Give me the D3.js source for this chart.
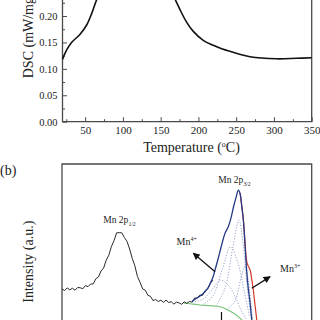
<!DOCTYPE html>
<html><head><meta charset="utf-8">
<script src="https://cdn.jsdelivr.net/npm/d3@7"></script>
<style>
html,body{margin:0;padding:0;background:#fff;}
svg{display:block;font-family:"Liberation Serif","Times New Roman",serif;}
</style></head><body>
<svg id="c" width="320" height="320"></svg>
<script>
// ---------- Panel (a): DSC ----------
const dscTemp = [20, 22, 25.5, 32, 43, 52, 58.7, 65, 75, 90, 110, 130, 150, 162, 169, 175.6, 184.5, 193.2, 206.4, 224.2, 237.4, 268.3, 303.6, 330, 350];
const dscVal  = [0.118, 0.125, 0.136, 0.150, 0.165, 0.183, 0.205, 0.230, 0.262, 0.288, 0.302, 0.300, 0.280, 0.252, 0.232, 0.212, 0.188, 0.171, 0.154, 0.142, 0.135, 0.123, 0.119, 0.120, 0.121];
const dscXTicks = [50, 100, 150, 200, 250, 300, 350];
const dscXMinor = [25, 75, 125, 175, 225, 275, 325];
const dscYTicks = [0, 0.05, 0.10, 0.15, 0.20];
const dscYMinor = [0.025, 0.075, 0.125, 0.175, 0.225];

// ---------- Panel (b): XPS Mn 2p ----------
const rawE = [660.00,659.75,659.50,659.25,659.00,658.75,658.50,658.25,658.00,657.75,657.50,657.25,657.00,656.75,656.50,656.25,656.00,655.75,655.50,655.25,655.00,654.75,654.50,654.25,654.00,653.75,653.50,653.25,653.00,652.75,652.50,652.25,652.00,651.75,651.50,651.25,651.00,650.75,650.50,650.25,650.00,649.75,649.50,649.25,649.00,648.75,648.50,648.25,648.00,647.75,647.50,647.25,647.00,646.75,646.50,646.25,646.00,645.75,645.50];
const rawI = [29.0,28.1,29.6,28.5,29.4,28.3,29.8,29.7,29.1,30.9,30.3,31.8,31.9,34.8,35.8,39.2,40.9,45.4,48.2,53.1,56.5,60.9,61.0,60.9,58.2,56.0,51.7,46.4,42.2,36.1,32.8,29.1,28.3,25.4,24.8,22.4,23.0,21.9,22.6,21.4,22.7,21.3,21.8,20.4,21.5,21.1,20.3,21.7,20.8,21.9,21.5,23.8,23.8,25.5,25.3,28.0,29.0,32.1,34.0];
const envE = [647.5,647.0,646.5,646.0,645.75,645.5,645.29,645.0,644.7,644.33,644.0,643.75,643.5,643.25,643.05,642.9,642.72,642.57,642.4,642.24,642.1,641.92,641.76,641.6];
const envI = [22.0,24.0,26.0,29.3,32.2,35.5,39.8,46.0,53.0,60.6,64.6,69.5,76.0,81.5,85.2,83.5,76.0,68.2,53.0,38.5,29.5,21.0,11.4,2.0];
const redE = [642.88,642.72,642.57,642.4,642.3,642.2,642.05,641.92,641.75,641.61,641.45,641.28,641.1];
const redI = [83.5,76.0,68.5,55.0,47.0,43.5,41.5,39.8,34.0,28.4,20.0,11.4,1.0];
const bgE = [648.3,647.7,646.73,645.8,644.81,644.2,643.53,642.72,641.92,641.7];
const bgI = [21.0,20.6,19.9,19.5,18.9,17.5,15.3,11.4,3.0,0.0];
const compA = [[645.2,19],[644.3,30],[643.6,52],[643.0,68],[642.6,55],[642.2,30],[641.8,12]];
const compB = [[646.5,20],[645.5,25],[644.6,40],[643.8,53],[643.1,44],[642.5,28],[642.0,14]];
const compC = [[647.5,21.5],[646.5,23],[645.5,29],[644.8,34],[644.0,31],[643.3,24],[642.8,17],[642.3,12]];
const compD = [[644.2,17],[643.4,22],[642.8,35],[642.4,42],[642.1,34],[641.8,18],[641.6,8]];
const arrows = [
  {from:[645.29,38.8], to:[647.38,49.3]},
  {from:[641.76,29.4], to:[640.0,36.0]}
];
const stubLine = [[644.67,15.9],[644.67,8.0]];

const svg = d3.select("#c");
const font = '"Liberation Serif","Times New Roman",serif';
const axisCol = "#4a4a4a";

// ===== Panel (a) =====
const xA = d3.scaleLinear().domain([20, 350]).range([62.5, 311.7]);
const yA = d3.scaleLinear().domain([0, 0.25]).range([121.7, -10.4]);

const gA = svg.append("g");
gA.append("path").attr("d", `M${xA(20)},${yA(0.25)}V${yA(0)}H${xA(350)}V${yA(0.25)}Z`)
  .attr("fill","none").attr("stroke",axisCol).attr("stroke-width",1.3);

function styleAxis(g){ g.select(".domain").remove(); g.selectAll("line").attr("stroke",axisCol).attr("stroke-width",1); }

gA.append("g").attr("transform",`translate(0,${yA(0)})`)
  .call(d3.axisBottom(xA).tickValues(dscXTicks).tickSize(-4.5).tickFormat("")).call(styleAxis);
gA.append("g").attr("transform",`translate(0,${yA(0)})`)
  .call(d3.axisBottom(xA).tickValues(dscXMinor).tickSize(-2.5).tickFormat("")).call(styleAxis);
gA.append("g").attr("transform",`translate(0,${yA(0)})`)
  .call(d3.axisBottom(xA).tickValues(dscXTicks).tickSize(0).tickPadding(4.5).tickFormat(d3.format("d")))
  .call(g=>{g.select(".domain").remove(); g.selectAll("text").attr("font-family",font).attr("font-size",11).attr("fill","#222");});

gA.append("g").attr("transform",`translate(${xA(20)},0)`)
  .call(d3.axisLeft(yA).tickValues(dscYTicks).tickSize(-4.5).tickFormat("")).call(styleAxis);
gA.append("g").attr("transform",`translate(${xA(20)},0)`)
  .call(d3.axisLeft(yA).tickValues(dscYMinor).tickSize(-2.5).tickFormat("")).call(styleAxis);
gA.append("g").attr("transform",`translate(${xA(20)},0)`)
  .call(d3.axisLeft(yA).tickValues(dscYTicks).tickSize(0).tickPadding(5).tickFormat(d3.format(".2f")))
  .call(g=>{g.select(".domain").remove(); g.selectAll("text").attr("font-family",font).attr("font-size",10.5).attr("fill","#222");});

const dscData = dscTemp.map((t,i)=>[t, dscVal[i]]);
gA.append("path").datum(dscData)
  .attr("d", d3.line().x(d=>xA(d[0])).y(d=>yA(d[1])).curve(d3.curveCatmullRom.alpha(0.5)))
  .attr("fill","none").attr("stroke","#111").attr("stroke-width",1.6);

const xt = gA.append("text").attr("x",191.5).attr("y",151.5).attr("text-anchor","middle")
  .attr("font-family",font).attr("font-size",14).attr("fill","#222");
xt.append("tspan").text("Temperature (");
xt.append("tspan").attr("font-size",8).attr("dy",-5).text("o");
xt.append("tspan").attr("dy",5).text("C)");

svg.append("text").attr("transform","translate(32.5,35.3) rotate(-90)").attr("text-anchor","middle")
  .attr("font-family",font).attr("font-size",14).attr("fill","#222").text("DSC (mW/mg)");

// ===== Panel (b) =====
const xB = d3.scaleLinear().domain([660, 636]).range([62, 311.7]);
const yB = d3.scaleLinear().domain([0, 100]).range([340, 164]);
const gB = svg.append("g");
gB.append("path").attr("d", `M${xB(660)},${yB(-8)}V${yB(100)}H${xB(636)}V${yB(-8)}`)
  .attr("fill","none").attr("stroke",axisCol).attr("stroke-width",1.3);

const lineB = d3.line().x(d=>xB(d[0])).y(d=>yB(d[1]));
const smoothB = d3.line().x(d=>xB(d[0])).y(d=>yB(d[1])).curve(d3.curveCatmullRom.alpha(0.5));

[compA, compB, compC, compD].forEach(c=>{
  gB.append("path").datum(c).attr("d", smoothB).attr("fill","none")
    .attr("stroke","#8d9bc4").attr("stroke-width",0.9).attr("stroke-dasharray","1.2,1.6");
});
gB.append("path").datum(bgE.map((e,i)=>[e,bgI[i]])).attr("d", smoothB)
  .attr("fill","none").attr("stroke","#7cc47a").attr("stroke-width",1.2);
gB.append("path").datum(redE.map((e,i)=>[e,redI[i]])).attr("d", smoothB)
  .attr("fill","none").attr("stroke","#d43a2c").attr("stroke-width",1.2);
gB.append("path").datum(rawE.map((e,i)=>[e,rawI[i]])).attr("d", lineB)
  .attr("fill","none").attr("stroke","#2a2a2a").attr("stroke-width",1);
gB.append("path").datum(envE.map((e,i)=>[e,envI[i]])).attr("d", smoothB)
  .attr("fill","none").attr("stroke","#263a86").attr("stroke-width",1.3);

const defs = svg.append("defs");
defs.append("marker").attr("id","ah").attr("viewBox","0 0 10 10").attr("refX",9).attr("refY",5)
  .attr("markerWidth",8).attr("markerHeight",7).attr("markerUnits","userSpaceOnUse").attr("orient","auto")
  .append("path").attr("d","M0,0L10,5L0,10Z").attr("fill","#111");
arrows.forEach(a=>{
  gB.append("line").attr("x1",xB(a.from[0])).attr("y1",yB(a.from[1]))
    .attr("x2",xB(a.to[0])).attr("y2",yB(a.to[1]))
    .attr("stroke","#111").attr("stroke-width",1.3).attr("marker-end","url(#ah)");
});
gB.append("path").datum(stubLine).attr("d", lineB).attr("stroke","#111").attr("stroke-width",1.2);

function mnLabel(x, y, main, script, up, size){
  const t = gB.append("text").attr("x",x).attr("y",y).attr("font-family",font)
    .attr("font-size",size).attr("fill","#222");
  t.append("tspan").text(main);
  t.append("tspan").attr("font-size",size*0.6).attr("dy", up ? -4 : 2.5).text(script);
  return t;
}
mnLabel(218.3, 183, "Mn 2p", "3/2", false, 9.5);
mnLabel(103.3, 223, "Mn 2p", "1/2", false, 9.5);
mnLabel(176.5, 245, "Mn", "4+", true, 10);
mnLabel(280, 271.5, "Mn", "3+", true, 10);

svg.append("text").attr("x",0).attr("y",175).attr("font-family",font).attr("font-size",14)
  .attr("fill","#222").text("(b)");
svg.append("text").attr("transform","translate(32.5,261.7) rotate(-90)").attr("text-anchor","middle")
  .attr("font-family",font).attr("font-size",14).attr("fill","#222").text("Intensity (a.u.)");
</script>
</body></html>
